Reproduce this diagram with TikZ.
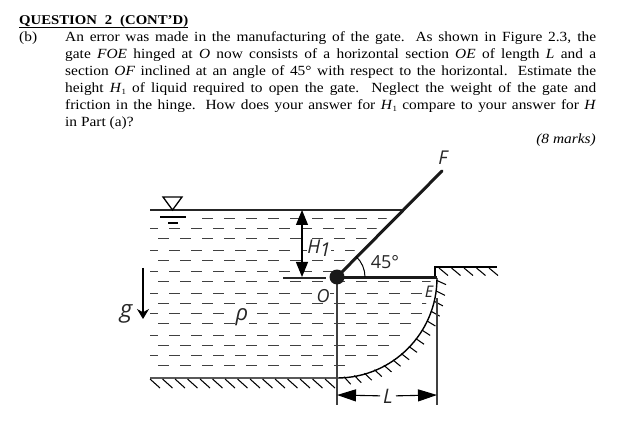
\documentclass[tikz,border=0pt]{standalone}
\usepackage{fontspec}
\setmainfont{Liberation Serif}[FakeStretch=1.1]
\newfontfamily\figfont{Open Sans}
\usetikzlibrary{arrows.meta,calc}
\newcommand{\hone}{\textit{H}\raisebox{-0.2ex}{\footnotesize 1}}
\newcommand{\fitline}[1]{\makebox[531pt][s]{#1}}
\tikzset{
  textline/.style={anchor=base west,inner sep=0pt,font=\fontsize{14}{15}\selectfont},
  figlabel/.style={inner sep=0.5pt,font=\figfont\itshape\fontsize{18}{20}\selectfont,text=black!85},
  liquid/.style={line width=1pt,black!75,dash pattern=on 10.5pt off 11.5pt},
  wall/.style={line width=1.4pt,black},
  hatch/.style={line width=1.05pt,black},
  gate/.style={line width=3pt,black!90},
  thinline/.style={line width=1.1pt,black!75},
  bigarrow/.style={line width=1.1pt,{Triangle[length=15pt,width=12pt]}-{Triangle[length=15pt,width=12pt]}},
  oneend/.style={line width=1.1pt,-{Triangle[length=19pt,width=12pt]}},
  gravity/.style={line width=1.2pt,-{Stealth[length=10pt,width=12pt]}}
}
\begin{document}
\begin{tikzpicture}[x=1pt,y=-1pt]
\useasboundingbox (0,0) rectangle (626,430);
% problem text
\node[textline,font=\bfseries\fontsize{13.4}{15}\selectfont] (title) at (19,25) {\makebox[169pt][s]{QUESTION 2 (CONT’D)}};
\draw[line width=0.8pt] (19,27.5) -- (188,27.5);
\node[textline] (partb) at (19,42) {(b)};
\node[textline] (l1) at (65,42) {\fitline{An error was made in the manufacturing of the gate. As shown in Figure 2.3, the}};
\node[textline] (l2) at (65,59) {\fitline{gate \textit{FOE} hinged at \textit{O} now consists of a horizontal section \textit{OE} of length \textit{L} and a}};
\node[textline] (l3) at (65,76) {\fitline{section \textit{OF} inclined at an angle of 45° with respect to the horizontal. Estimate the}};
\node[textline] (l4) at (65,93) {\fitline{height \hone{} of liquid required to open the gate. Neglect the weight of the gate and}};
\node[textline] (l5) at (65,110) {\fitline{friction in the hinge. How does your answer for \hone{} compare to your answer for \textit{H}}};
\node[textline] (l6) at (65,127) {in Part (a)?};
\node[textline,anchor=base east] (marks) at (596,144) {\textit{(8 marks)}};
% liquid
\begin{scope}
\clip (150,212) -- (393,212) -- (331,274) -- (431,274) arc (0:90:92) -- (150,374) -- cycle;
\foreach \r in {239,261,281,303,323,345,365}
  \draw[liquid] (158,\r) -- (440,\r);
\draw[liquid] (202,219) -- (440,219);
\foreach \r in {229,251,271,293,313,335,355}
  \draw[liquid] (147,\r) -- (440,\r);
\end{scope}
% key points
\coordinate (O) at (337,277);
\coordinate (Fend) at (442,171);
\coordinate (Eend) at (437,277);
\coordinate (Bot) at (337,378);
\coordinate (surfL) at (150,210);
\coordinate (surfR) at (402,210);
% surface and symbol
\draw[line width=1.3pt,black!85] (surfL) -- (surfR);
\draw[line width=1.3pt] (163,197) -- (182,197) -- (172.5,210) -- cycle;
\draw[line width=1.2pt] (160,217) -- (186,217);
\draw[line width=1.2pt] (168,223) -- (178,223);
% walls
\draw[wall] (surfL|-Bot) -- (Bot) arc (90:0:100);
\draw[wall] (435,277) -- (435,267) -- (497,267);
\foreach \x in {150,162.5,...,337}
  \draw[hatch] (\x,379) -- ++(10,9);
\foreach \x in {439,451.5,...,490}
  \draw[hatch] (\x,268) -- ++(9,7.5);
\foreach \a in {2,8,...,86}{
  \pgfmathsetmacro{\dirn}{24+\a*0.28}
  \draw[hatch] ($(337,277)+(\a:100)$) -- ++(\dirn:10);
}
% guides
\draw[thinline] (O) -- (337,405);
\draw[thinline] (437,298) -- (437,405);
\draw[line width=1.3pt,black!85] (283,278) -- (326,278);
% labels
\node[figlabel,fill=white,font=\figfont\itshape\fontsize{19}{20}\selectfont] (h1) at (319,248) {H\raisebox{-0.3ex}{\figfont 1}};
\node[figlabel,fill=white] (olabel) at (323,296) {O};
\node[figlabel,fill=white,font=\figfont\itshape\fontsize{16}{18}\selectfont] (elabel) at (429,292) {E};
\node[figlabel,fill=white,font=\figfont\itshape\fontsize{22}{22}\selectfont] (rho) at (242,317) {ρ};
\node[figlabel,font=\figfont\itshape\fontsize{19}{20}\selectfont] (flabel) at (443,158) {F};
\node[figlabel,font=\figfont\fontsize{18}{20}\selectfont] (angle) at (385,262) {45°};
\node[figlabel,font=\figfont\itshape\fontsize{24}{24}\selectfont] (glabel) at (126,314) {g};
\node[figlabel,fill=white,font=\figfont\itshape\fontsize{20}{20}\selectfont,inner sep=3pt] (llabel) at (388,396) {L};
% dimensions
\coordinate (h1t) at (302,210);
\coordinate (h1b) at (302,277);
\draw[bigarrow] (h1t) -- (h1b);
\draw[oneend] (llabel) -- (337,395);
\draw[oneend] (llabel) -- (437,395);
\coordinate (gt) at (143,268);
\coordinate (gb) at (143,319);
\draw[gravity] (gt) -- (gb);
% gate
\draw[gate] (Eend) -- (O);
\draw[gate,line cap=round] (O) -- (Fend);
\draw[line width=1pt] (365,277) arc (0:-47:28);
\fill[black!90] (O) circle (7.5);
\end{tikzpicture}
\end{document}
